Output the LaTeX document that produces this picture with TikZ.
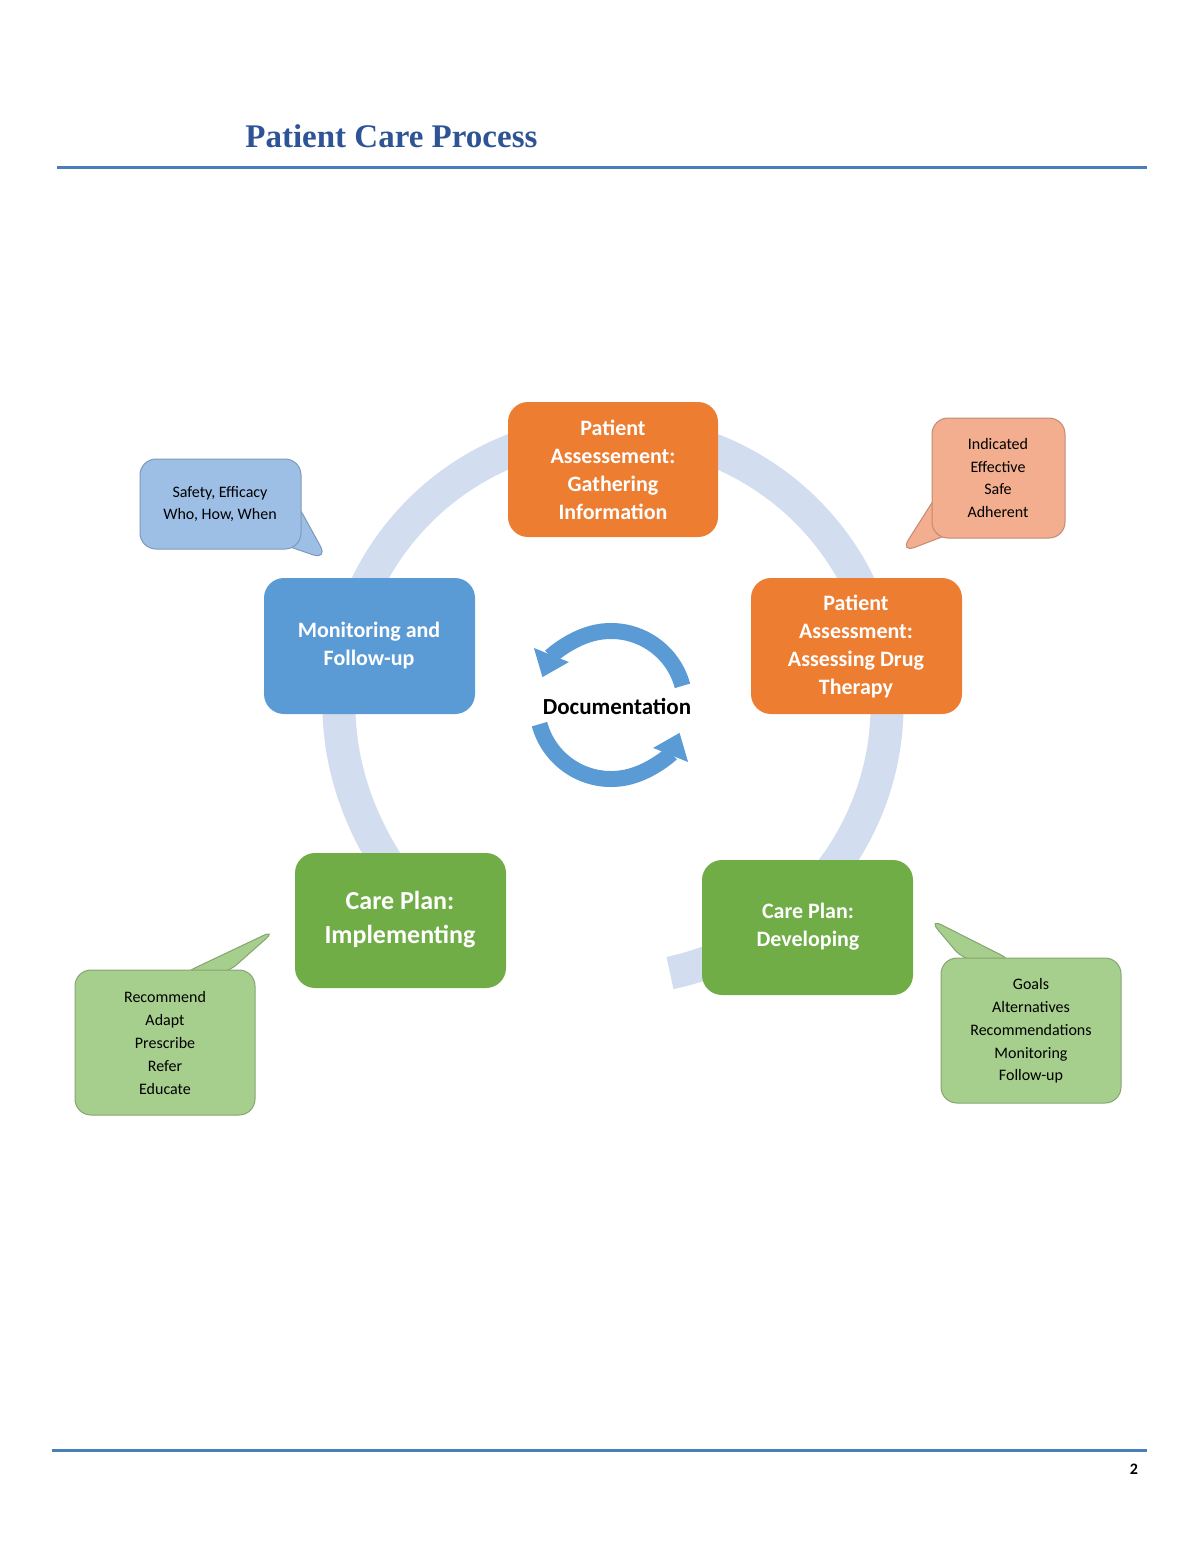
\documentclass[tikz,border=0pt]{standalone}
\usepackage{fontspec}
\setmainfont{Carlito}
\newfontfamily\titlefont{Liberation Serif}
\usetikzlibrary{arrows.meta}
\definecolor{ttl}{HTML}{2F5496}
\definecolor{rule}{HTML}{4A7EBB}
\definecolor{org}{HTML}{ED7D31}
\definecolor{blu}{HTML}{5B9BD5}
\definecolor{grn}{HTML}{70AD47}
\definecolor{ring}{HTML}{D2DEF0}
\definecolor{cblu}{HTML}{9DBFE6}
\definecolor{corg}{HTML}{F2AE8E}
\definecolor{cgrn}{HTML}{A6CE8C}
\begin{document}
\begin{tikzpicture}[x=0.5pt,y=-0.5pt,
  box/.style={rounded corners=10pt,text=white,font=\bfseries\fontsize{11}{14}\selectfont,align=center,inner sep=0},
  call/.style={rounded corners=8pt,draw=#1!80!black,fill=#1,line width=0.5pt},
  ctext/.style={font=\fontsize{8}{11.4}\selectfont,align=center}]
\useasboundingbox (0,0) rectangle (1200,1553);
% header / footer
\node[anchor=base west,text=ttl,font=\titlefont\bfseries\fontsize{16.5}{18}\selectfont,inner sep=0] (title) at (245,147) {Patient Care Process};
\draw[rule,line width=1.5pt] (57,167) -- (1147,167);
\draw[rule,line width=1.5pt] (52,1450) -- (1147,1450);
\node[font=\bfseries\fontsize{8}{9}\selectfont] (pg) at (1134,1469) {2};
% ring
\draw[ring,line width=16.5pt,-{Triangle[width=32pt,length=20pt]}] (613,705) ++(78:274) arc[start angle=78,end angle=-245,radius=274];
% boxes
\fill[org,rounded corners=10pt] (508,402) rectangle (718,537);
\node[box] (top) at (613,470) {Patient\\Assessement:\\Gathering\\Information};
\fill[org,rounded corners=10pt] (751,578) rectangle (962,714);
\node[box] (right) at (856,646) {Patient\\Assessment:\\Assessing Drug\\Therapy};
\fill[blu,rounded corners=10pt] (264,578) rectangle (475,714);
\node[box] (left) at (369,646) {Monitoring and\\Follow-up};
\fill[grn,rounded corners=10pt] (295,853) rectangle (506,988);
\node[box,font=\bfseries\fontsize{13}{17}\selectfont] (impl) at (400,920) {Care Plan:\\Implementing};
\fill[grn,rounded corners=10pt] (702,860) rectangle (913,995);
\node[box] (dev) at (808,927) {Care Plan:\\Developing};
% documentation
\draw[blu,line width=8pt,-{Triangle[width=18pt,length=12pt]}] (611,705) ++(165:74) arc[start angle=165,end angle=22,radius=74];
\draw[blu,line width=8pt,-{Triangle[width=18pt,length=12pt]}] (611,705) ++(-15:74) arc[start angle=-15,end angle=-158,radius=74];
\node[font=\bfseries\fontsize{11.5}{14}\selectfont] (doc) at (617,706) {Documentation};
% callouts
\draw[call=cblu] (270,540) -- (328,560) -- (295,500) -- cycle;
\draw[call=cblu] (140,459) rectangle (301,549);
\node[ctext] (c1) at (220,504) {Safety, Efficacy\\Who, How, When};
\draw[call=corg] (940,490) -- (900,553) -- (960,530) -- cycle;
\draw[call=corg] (932,418) rectangle (1065,538);
\node[ctext] (c2) at (998,478) {Indicated\\Effective\\Safe\\Adherent};
\draw[call=cgrn] (180,975) -- (277,929) -- (225,975) -- cycle;
\draw[call=cgrn] (75,970) rectangle (255,1115);
\node[ctext] (c3) at (165,1043) {Recommend\\Adapt\\Prescribe\\Refer\\Educate};
\draw[call=cgrn] (965,962) -- (928,918) -- (1015,962) -- cycle;
\draw[call=cgrn] (941,958) rectangle (1121,1103);
\node[ctext] (c4) at (1031,1031) {Goals\\Alternatives\\Recommendations\\Monitoring\\Follow-up};
\end{tikzpicture}
\end{document}
